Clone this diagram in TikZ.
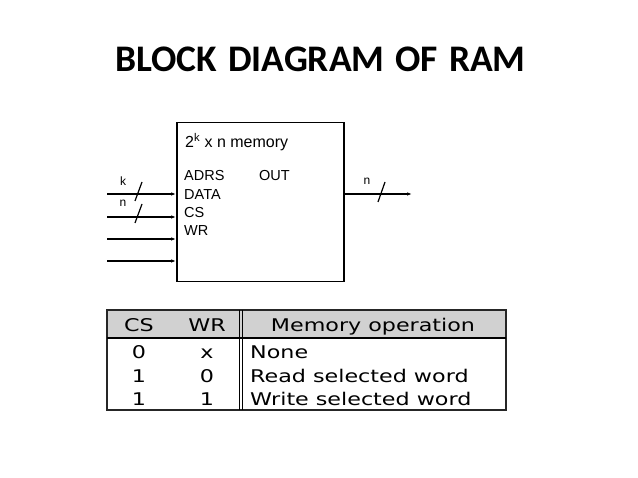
\documentclass[tikz,border=0pt]{standalone}
\usepackage{fontspec}
\setmainfont{Liberation Sans}
\newfontfamily\titlefont{Carlito}
\newfontfamily\tabfont[FakeStretch=1.27]{DejaVu Sans}
\usetikzlibrary{arrows.meta}
\begin{document}
\begin{tikzpicture}[x=1pt,y=-1pt,
  wire/.style={line width=1.2pt,-{Latex[length=5pt,width=3.5pt]}},
  busmark/.style={line width=1.2pt},
  boxlbl/.style={anchor=base west,inner sep=0pt,font=\fontsize{14.5}{16}\selectfont},
  tabtxt/.style={anchor=base,inner sep=0pt,font=\tabfont\fontsize{17.5}{18}\selectfont},
  tline/.style={line width=2.2pt,draw=black!85}]
\useasboundingbox (0,0) rectangle (638,478);
% title
\node[font=\titlefont\bfseries\fontsize{37.5}{40}\selectfont,inner sep=0pt] (title) at (320.5,59.5) {BLOCK\hspace{11pt}DIAGRAM\hspace{11pt}OF\hspace{11pt}RAM};
% memory box
\node[draw,line width=1.5pt,minimum width=167pt,minimum height=159pt,anchor=north west,inner sep=0pt] (mem) at (176,122) {};
\node[boxlbl,font=\fontsize{16}{18}\selectfont] (hdr) at (185,148) {2\textsuperscript{k} x n memory};
\node[boxlbl] (adrs) at (184,181) {ADRS};
\node[boxlbl] (data) at (184,200) {DATA};
\node[boxlbl] (cs) at (184,218) {CS};
\node[boxlbl] (wr) at (184,236) {WR};
\node[boxlbl] (out) at (259,181) {OUT};
% inputs
\coordinate (i1) at (107,194);
\coordinate (i2) at (107,217);
\coordinate (i3) at (107,239);
\coordinate (i4) at (107,261);
\coordinate (e1) at (mem.west |- i1);
\coordinate (e2) at (mem.west |- i2);
\coordinate (e3) at (mem.west |- i3);
\coordinate (e4) at (mem.west |- i4);
\draw[wire] (i1) -- (e1);
\draw[wire] (i2) -- (e2);
\draw[wire] (i3) -- (e3);
\draw[wire] (i4) -- (e4);
\coordinate (s1) at (138,194);
\coordinate (s2) at (138,217);
\draw[busmark] ([shift={(-3,7)}]s1) -- ([shift={(4,-12)}]s1);
\draw[busmark] ([shift={(-3,6)}]s2) -- ([shift={(4,-13)}]s2);
\node[font=\fontsize{12}{14}\selectfont,inner sep=0pt] (k) at (123,181) {k};
\node[font=\fontsize{12}{14}\selectfont,inner sep=0pt] (nin) at (123,203) {n};
% output
\coordinate (o1) at (mem.east |- i1);
\coordinate (o2) at (412,194);
\draw[wire] (o1) -- (o2);
\coordinate (s3) at (382,194);
\draw[busmark] ([shift={(-4,8)}]s3) -- ([shift={(3,-12)}]s3);
\node[font=\fontsize{12}{14}\selectfont,inner sep=0pt] (nout) at (367,181) {n};
% table
\fill[black!18] (107,310) rectangle (506,338);
\draw[tline] (107,310) rectangle (506,410);
\draw[line width=1.2pt] (107,338) -- (506,338);
\draw[line width=1pt] (239,310) -- (239,410);
\draw[line width=1pt] (242,310) -- (242,410);
\node[tabtxt] (hcs) at (139,332) {CS};
\node[tabtxt] (hwr) at (207,332) {WR};
\node[tabtxt] (hop) at (373,332) {Memory operation};
\node[tabtxt] (r1a) at (139,359) {0};
\node[tabtxt] (r1b) at (207,359) {x};
\node[tabtxt,anchor=base west] (r1c) at (250,359) {None};
\node[tabtxt] (r2a) at (139,383) {1};
\node[tabtxt] (r2b) at (207,383) {0};
\node[tabtxt,anchor=base west] (r2c) at (250,383) {Read selected word};
\node[tabtxt] (r3a) at (139,406) {1};
\node[tabtxt] (r3b) at (207,406) {1};
\node[tabtxt,anchor=base west] (r3c) at (250,406) {Write selected word};
\end{tikzpicture}
\end{document}
